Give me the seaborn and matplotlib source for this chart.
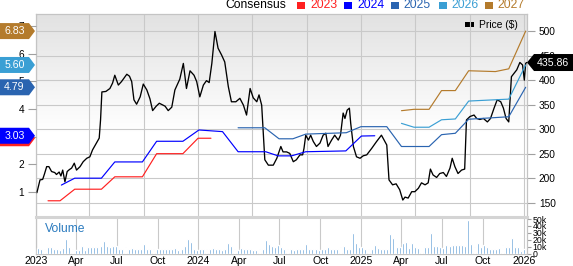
import numpy as np
import pandas as pd
import matplotlib
matplotlib.use("Agg")
import matplotlib.pyplot as plt
import matplotlib.dates as mdates
from matplotlib.patches import Polygon, Rectangle
from matplotlib.transforms import IdentityTransform
from matplotlib.ticker import FuncFormatter
import seaborn as sns

# ---------------- data ----------------
price_dates = ["2023-01-03","2023-01-10","2023-01-16","2023-01-20","2023-01-25","2023-01-30",
"2023-02-05","2023-02-12","2023-02-16","2023-02-22","2023-02-26",
"2023-03-02","2023-03-07","2023-03-12","2023-03-17","2023-03-22","2023-03-28",
"2023-04-02","2023-04-10","2023-04-17","2023-04-25",
"2023-05-02","2023-05-08","2023-05-16","2023-05-23","2023-05-26","2023-05-29",
"2023-06-07","2023-06-16","2023-06-22","2023-06-27",
"2023-07-05","2023-07-12","2023-07-24","2023-07-30",
"2023-08-04","2023-08-09","2023-08-15","2023-08-23","2023-08-30",
"2023-09-07","2023-09-14","2023-09-20","2023-09-28",
"2023-10-05","2023-10-18","2023-10-25",
"2023-11-02","2023-11-09","2023-11-20","2023-11-28",
"2023-12-05","2023-12-13","2023-12-22","2023-12-28",
"2024-01-04","2024-01-12","2024-01-19","2024-01-25","2024-01-31",
"2024-02-07","2024-02-14","2024-02-22","2024-02-29",
"2024-03-08","2024-03-15","2024-03-25",
"2024-04-03","2024-04-11","2024-04-18","2024-04-26",
"2024-05-03","2024-05-11","2024-05-16","2024-05-22","2024-05-29",
"2024-06-06","2024-06-17","2024-06-25",
"2024-07-04","2024-07-09","2024-07-17","2024-07-24",
"2024-08-01","2024-08-08","2024-08-16","2024-08-22","2024-08-25","2024-08-29",
"2024-09-04","2024-09-09","2024-09-15","2024-09-22","2024-09-30",
"2024-10-07","2024-10-13","2024-10-18","2024-10-26",
"2024-11-02","2024-11-10","2024-11-15","2024-11-21","2024-11-25","2024-11-30",
"2024-12-05","2024-12-08","2024-12-14","2024-12-21","2024-12-29",
"2025-01-05","2025-01-13","2025-01-24",
"2025-02-04","2025-02-15","2025-02-27",
"2025-03-04","2025-03-12","2025-03-20","2025-03-28",
"2025-04-04","2025-04-09","2025-04-16","2025-04-24",
"2025-05-01","2025-05-09","2025-05-16","2025-05-24","2025-05-31",
"2025-06-05","2025-06-11","2025-06-19","2025-06-26",
"2025-07-04","2025-07-11","2025-07-19","2025-07-24","2025-07-30",
"2025-08-06","2025-08-14","2025-08-21","2025-08-25",
"2025-09-02","2025-09-11","2025-09-17","2025-09-24",
"2025-10-02","2025-10-11","2025-10-18","2025-10-26",
"2025-11-02","2025-11-10","2025-11-16","2025-11-22","2025-11-28",
"2025-12-04","2025-12-16","2025-12-23","2025-12-29",
"2026-01-02","2026-01-05","2026-01-07"]
price_vals = [171,197,198,209,224,224,214,212,208,213,205,217,193,214,218,221,231,217,224,234,
241,244,258,271,282,319,376,377,383,394,410,390,397,412,408,397,360,351,366,392,
380,362,338,347,353,347,338,345,380,402,434,383,419,410,397,366,390,399,395,434,
499,465,451,437,387,356,356,363,349,329,383,364,356,370,349,238,227,227,241,265,
254,254,251,234,238,248,248,261,288,278,288,275,265,272,288,292,265,278,288,278,
288,333,322,339,343,312,265,244,241,246,248,261,275,288,268,197,187,189,177,156,
162,160,173,173,180,191,187,191,219,207,202,210,212,204,221,241,224,210,217,219,
319,326,329,322,320,322,315,322,343,360,356,343,322,315,407,421,436,431,400,434,435.86]

c2023_dates = ["2023-01-28","2023-02-24","2023-03-29","2023-05-28","2023-06-27","2023-08-28",
               "2023-09-29","2023-11-27","2023-12-31","2024-01-29"]
c2023_vals = [0.67,0.67,1.09,1.09,1.54,1.54,2.38,2.38,2.94,2.94]

c2024_dates = ["2023-02-27","2023-03-29","2023-05-28","2023-06-27","2023-08-28","2023-09-29",
               "2023-11-27","2024-01-02","2024-02-24","2024-03-30","2024-05-31","2024-06-28",
               "2024-07-28","2024-08-29","2024-11-27","2025-01-01","2025-01-31"]
c2024_vals = [1.24,1.49,1.49,2.08,2.08,2.83,2.83,3.24,3.18,2.45,2.45,2.30,2.30,2.45,2.48,3.02,3.03]

c2025_dates = ["2024-03-30","2024-05-29","2024-06-30","2024-07-31","2024-08-29","2024-11-28",
               "2024-12-31","2025-02-27","2025-04-01","2025-06-02","2025-06-30","2025-07-31",
               "2025-08-30","2025-11-28","2026-01-05"]
c2025_vals = [3.32,3.32,2.92,2.92,3.09,3.14,3.36,3.36,2.64,2.64,3.07,3.12,3.63,3.72,4.79]

c2026_dates = ["2025-04-01","2025-04-29","2025-06-02","2025-06-30","2025-07-31","2025-08-30",
               "2025-11-28","2026-01-05"]
c2026_vals = [3.48,3.34,3.34,3.61,3.64,4.29,4.36,5.60]

c2027_dates = ["2025-04-01","2025-04-29","2025-06-02","2025-06-30","2025-07-31","2025-08-30",
               "2025-10-29","2025-11-28","2026-01-05"]
c2027_vals = [3.94,3.99,3.99,4.67,4.67,5.39,5.36,5.46,6.83]

# weekly volume (thousands), weeks ending Friday from 2023-01-06
volume_k = [7.7,7.2,6.3,10.1,10.1,7.2,7.2,5.8,7.7,21.7,9.7,6.3,4.8,5.3,11.1,4.8,9.7,9.7,9.7,10.1,
11.1,17.9,11.1,9.7,11.1,11.1,7.2,7.2,9.7,7.2,8.2,7.2,6.3,6.3,13.5,6.3,6.3,7.2,6.3,6.3,
6.3,6.3,7.2,6.3,8.2,5.3,7.2,11.1,20.8,16.9,6.3,5.3,7.2,6.8,7.2,7.2,8.2,6.3,7.2,5.3,
6.3,15.9,11.1,6.3,5.3,8.2,7.2,6.3,6.3,5.3,5.3,6.3,7.2,19.8,13.5,11.1,8.7,12.1,8.7,7.2,
7.2,7.2,5.3,6.3,6.3,6.3,13.5,7.2,6.3,6.3,4.8,6.3,7.2,8.7,6.3,6.3,6.3,8.7,11.1,7.2,
7.2,29.5,14.5,10.1,9.7,6.3,7.2,6.3,12.6,7.7,7.2,7.2,7.2,28.0,22.2,9.7,9.7,14.5,16.9,7.7,
15.0,8.7,7.7,17.4,10.1,8.7,29.5,11.1,10.6,10.1,7.7,12.1,11.1,12.1,12.6,13.0,13.0,11.1,48.8,13.5,
9.7,15.9,8.7,12.1,10.1,7.2,6.3,6.3,7.7,12.1,8.7,8.7,22.2,8.7,9.7,3.9,6.3]
volume_dates = pd.date_range("2023-01-06", periods=len(volume_k), freq="W-FRI")

legend_years = ["2023", "2024", "2025", "2026", "2027"]
year_colors = ["#ff2020", "#0000ff", "#2a64b0", "#3a9fd4", "#b47b2c"]
price_ticks = [150, 200, 250, 300, 350, 400, 450, 500]
eps_ticks = [1, 2, 3, 4, 5, 6, 7]
vol_ticks = [0, 10, 20, 30, 40, 50]
vol_labels = ["0", "10k", "20k", "30k", "40k", "50k"]

# ---------------- style ----------------
sns.set_theme(style="white")
plt.rcParams['font.family'] = ['Liberation Sans', 'DejaVu Sans']

W, H = 573, 266
fig = plt.figure(figsize=(W / 100, H / 100), dpi=100)
L, R = 36, 527
T, MID, B = 14, 217, 254

def fx(x):
    return x / W

def fy(y):
    return 1 - y / H

bg = fig.add_axes([fx(L), fy(MID), (R - L) / W, (MID - T) / H], zorder=0)
ax = fig.add_axes([fx(L), fy(MID), (R - L) / W, (MID - T) / H], zorder=1)
axv = fig.add_axes([fx(L), fy(B), (R - L) / W, (B - MID) / H], zorder=1)
ax.patch.set_visible(False)

# gradient background
n = 200
f = np.linspace(0, 1, n)
top = 0.885
shade = np.where(f < 0.58, top + (1 - top) * (f / 0.58), 1.0)
grad = np.repeat(shade[:, None, None], 3, axis=2)
bg.imshow(grad, aspect="auto", extent=[0, 1, 0, 1])
bg.set_xlim(0, 1); bg.set_ylim(0, 1)
bg.axis("off")

pdates = pd.to_datetime(price_dates)
sns.lineplot(x=pdates, y=price_vals, ax=ax, color="black", lw=0.95, zorder=3)

ax_eps = ax.twinx()
ax_eps.set_zorder(2)
ax_eps.patch.set_visible(False)
for d, v, c in zip([c2023_dates, c2024_dates, c2025_dates, c2026_dates, c2027_dates],
                   [c2023_vals, c2024_vals, c2025_vals, c2026_vals, c2027_vals], year_colors):
    sns.lineplot(x=pd.to_datetime(d), y=v, ax=ax_eps, color=c, lw=0.85, zorder=4)

axv.bar(volume_dates, np.array(volume_k) * 1000, width=4.3, color="#5b9bd5", zorder=3)

xmin, xmax = pd.Timestamp("2023-01-01"), pd.Timestamp("2026-01-08")
for a in (ax, ax_eps, axv):
    a.set_xlim(xmin, xmax)
ax.set_ylim(121.5, 534.6)
ax_eps.set_ylim(0.081, 7.45)
axv.set_ylim(-720, 52900)

grid_kw = dict(color="#c9c9c9", lw=0.8)
# price axis (right)
ax.yaxis.tick_right()
ax.set_yticks(price_ticks)
ax.tick_params(axis="y", which="both", right=True, left=False, length=6, width=0.8,
               color="#a0a0a0", labelsize=7.3, labelcolor="black", pad=2.5)
ax.grid(True, axis="both", **grid_kw)
ax.set_axisbelow(True)
ax.set_xlabel(""); ax.set_ylabel("")
ax.tick_params(axis="x", bottom=False, labelbottom=False)

# eps axis (left)
ax_eps.yaxis.tick_left()
ax_eps.set_yticks(eps_ticks)
ax_eps.tick_params(axis="y", left=True, right=False, length=6, width=0.8, color="#a0a0a0",
                   labelsize=7.3, labelcolor="black", pad=2.5, labelleft=True, labelright=False)
ax_eps.set_ylabel(""); ax_eps.set_xlabel("")
ax_eps.tick_params(axis="x", bottom=False, labelbottom=False)
ax_eps.grid(False)

# volume axis
axv.yaxis.tick_right()
axv.set_yticks([v * 1000 for v in vol_ticks])
axv.set_yticklabels(vol_labels)
axv.tick_params(axis="y", right=True, left=False, length=3, width=0.8, color="#a0a0a0",
                labelsize=6.3, labelcolor="black", pad=1)
axv.xaxis.set_major_locator(mdates.MonthLocator(bymonth=[1, 4, 7, 10]))
axv.xaxis.set_major_formatter(FuncFormatter(
    lambda x, pos: (mdates.num2date(x).strftime("%Y") if mdates.num2date(x).month == 1
                    else mdates.num2date(x).strftime("%b"))))
axv.tick_params(axis="x", length=0, labelsize=7.6, labelcolor="black", pad=1.5)
axv.grid(True, axis="x", **grid_kw)
axv.set_axisbelow(True)
axv.set_facecolor("white")

for a in (ax, axv):
    for s in a.spines.values():
        s.set_color("#c4c4c4"); s.set_linewidth(0.9)
ax.spines["bottom"].set_visible(False)
axv.spines["top"].set_color("#d4d4d4"); axv.spines["top"].set_linewidth(2.2)
for s in ax_eps.spines.values():
    s.set_visible(False)

# ---------------- tags & legends ----------------
ident = IdentityTransform()
x0num = ax_eps.get_xlim()[0]

def left_tag(val, color, label=None):
    yd = ax_eps.transData.transform((x0num, val))[1]
    poly = Polygon([(0, yd - 8), (29, yd - 8), (35, yd), (29, yd + 8), (0, yd + 8)],
                   closed=True, transform=ident, facecolor=color, edgecolor="none", zorder=10)
    fig.add_artist(poly)
    if label:
        fig.text(14.5 / W, yd / H, label, color="white", fontsize=7.6, ha="center",
                 va="center", zorder=11)

left_tag(c2023_vals[-1], year_colors[0])
left_tag(c2024_vals[-1], year_colors[1], f"{c2024_vals[-1]:.2f}")
left_tag(c2025_vals[-1], year_colors[2], f"{c2025_vals[-1]:.2f}")
left_tag(c2026_vals[-1], year_colors[3], f"{c2026_vals[-1]:.2f}")
left_tag(c2027_vals[-1], year_colors[4], f"{c2027_vals[-1]:.2f}")

yp = ax.transData.transform((x0num, price_vals[-1]))[1]
fig.add_artist(Polygon([(527, yp), (534, yp + 8.5), (573, yp + 8.5), (573, yp - 8.5), (534, yp - 8.5)],
                       closed=True, transform=ident, facecolor="black", edgecolor="none", zorder=10))
fig.text(553 / W, yp / H, f"{price_vals[-1]:.2f}", color="white", fontsize=7.6,
         ha="center", va="center", zorder=11)

# top legend
fig.text(fx(225), fy(5.5), "Consensus", fontsize=8.7, color="black", ha="left", va="center")
sq_x = [297, 344, 391, 439, 485]
tx_x = [310, 357, 403, 451, 497]
for sx, tx, yr, c in zip(sq_x, tx_x, legend_years, year_colors):
    fig.add_artist(Rectangle((sx, H - 8.5), 8, 7, transform=ident, facecolor=c, edgecolor="none"))
    fig.text(fx(tx), fy(5.5), yr, fontsize=8.7, color=c, ha="left", va="center")

# price legend
fig.add_artist(Rectangle((465, H - 26.7), 9, 5, transform=ident, facecolor="black", edgecolor="none"))
fig.text(fx(479), fy(24.5), "Price ($)", fontsize=7.4, color="black", ha="left", va="center")

fig.text(fx(45), fy(229), "Volume", fontsize=8.7, color="#2b7bbf", ha="left", va="center")

fig.savefig("out.png", dpi=100)
